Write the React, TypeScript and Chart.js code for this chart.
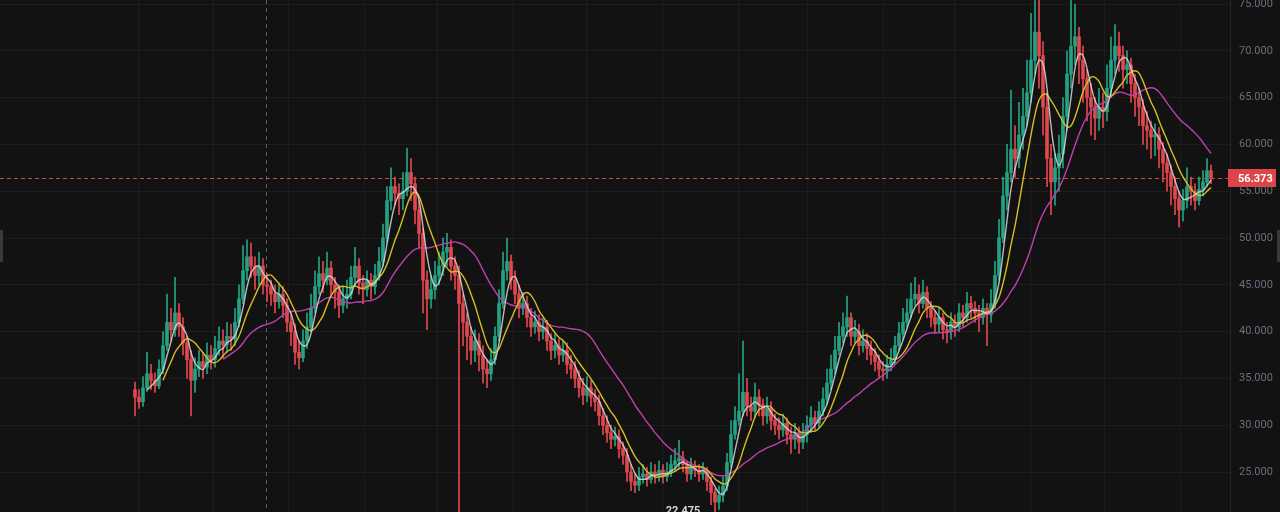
import React, { useEffect, useRef } from 'react';
import { Chart, registerables } from 'chart.js';

Chart.register(...registerables);

// ---------- data ----------
const FIRST_OPEN = 33.8;
const LAST_PRICE = 56.373;
const LOW_LABEL = '22.475';
const LOW_LABEL_INDEX = 137;
const CROSSHAIR_INDEX = 32.75;

const closes = [
  33.0, 32.5, 34.0, 35.5, 34.8, 34.2, 36.0, 38.5, 41.0, 40.2,
  42.0, 40.5, 38.8, 37.0, 34.8, 36.0, 36.8, 36.2, 37.5, 37.0,
  38.2, 39.0, 38.6, 39.5, 39.2, 41.0, 43.5, 46.5, 48.0, 47.0,
  46.0, 47.0, 45.0, 44.8, 44.0, 43.2, 44.0, 42.8, 41.0, 40.0,
  37.8, 37.2, 39.0, 40.5, 42.5, 44.8, 46.2, 45.5, 46.8, 45.0,
  44.2, 42.8, 43.5, 44.0, 45.8, 47.0, 45.2, 44.5, 45.5, 44.8,
  46.0, 47.5, 50.0, 54.0, 55.5, 54.8, 54.2, 55.0, 57.0, 55.8,
  53.0, 50.5, 45.5, 43.5, 44.5, 46.0, 47.0, 48.5, 49.0, 47.0,
  46.0, 43.0, 41.0, 39.5, 38.0, 39.0, 37.5, 36.0, 35.5, 37.0,
  39.5, 43.0, 46.5, 47.5, 45.5, 44.0, 42.5, 43.0, 41.5, 40.5,
  41.0, 40.0, 40.5, 39.0, 38.0, 38.5, 37.5, 38.0, 36.5, 36.0,
  35.0, 34.0, 33.2, 34.0, 33.0, 32.5, 31.0, 30.0, 29.2, 28.5,
  28.8, 27.5, 26.8, 25.0, 24.0, 23.6, 24.5, 24.8, 24.2, 25.0,
  24.6, 25.2, 24.5, 25.0, 25.8, 26.2, 26.5, 25.8, 24.8, 25.5,
  25.2, 24.8, 25.2, 24.0, 22.8, 21.8, 22.5, 23.5, 26.0, 29.0,
  30.5, 31.5, 33.5, 32.0, 31.5, 33.0, 32.2, 31.0, 31.8, 30.5,
  30.0, 29.5, 30.2, 29.0, 28.5, 29.2, 28.2, 29.0, 30.0, 30.8,
  30.2, 31.5, 32.8, 34.5, 36.0, 38.0, 39.5, 40.5, 41.5, 39.5,
  40.0, 38.5, 39.0, 38.2, 37.5, 36.8, 36.0, 35.8, 36.5, 37.0,
  38.5, 39.8, 41.0, 42.0, 43.5, 44.0, 43.0, 44.2, 42.5, 41.5,
  40.8, 41.5, 40.2, 40.0, 41.0, 40.5, 42.0, 41.5, 43.0, 42.5,
  42.0, 41.5, 42.5, 41.8, 43.0, 46.0, 50.0, 54.5, 57.0, 59.5,
  58.5, 61.0, 63.0, 65.5, 69.0, 72.0, 69.5, 64.0, 58.5, 56.0,
  57.5, 59.0, 63.0, 67.5, 70.5, 71.5, 69.0, 67.0, 65.0, 64.0,
  62.8, 64.0, 63.5, 66.0, 69.0, 70.5, 69.5, 68.0, 68.5, 66.5,
  65.0, 64.0, 62.0, 61.5, 60.8, 61.0, 59.5, 58.0, 57.0, 55.5,
  54.2, 53.0, 54.0, 55.5, 55.0, 54.0, 55.2, 56.0, 57.2, 56.373,
];

const highs = [
  34.6, 33.8, 35.2, 37.8, 36.5, 35.6, 37.0, 40.0, 44.0, 42.5,
  45.8, 43.0, 41.5, 39.5, 38.0, 37.2, 38.0, 37.8, 38.8, 38.5,
  39.5, 40.5, 40.2, 41.0, 40.8, 42.5, 45.0, 49.2, 49.8, 49.5,
  48.0, 48.5, 47.8, 46.2, 45.5, 45.0, 45.2, 44.8, 43.5, 42.0,
  40.8, 39.0, 40.2, 42.0, 44.0, 46.5, 48.0, 47.5, 48.5, 47.5,
  45.8, 45.0, 44.8, 45.5, 47.0, 49.0, 47.8, 46.0, 46.5, 46.2,
  47.2, 49.0, 51.5, 55.5, 57.5, 56.5, 55.8, 57.0, 59.6, 58.5,
  56.5, 54.0, 51.0, 46.5, 46.0, 47.5, 48.5, 50.0, 50.5, 49.8,
  48.0, 47.0, 44.0, 42.0, 40.5, 40.2, 39.8, 38.5, 37.0, 38.2,
  40.5, 44.5, 48.5, 50.0, 48.2, 46.5, 45.0, 44.2, 43.8, 42.5,
  42.2, 41.8, 41.5, 41.2, 39.8, 39.8, 39.2, 39.0, 38.8, 37.5,
  36.8, 35.8, 35.0, 35.2, 34.8, 33.8, 33.2, 31.8, 31.0, 30.0,
  29.8, 29.5, 28.2, 27.5, 25.8, 24.8, 25.5, 25.8, 25.5, 26.0,
  25.8, 26.2, 25.8, 26.0, 26.8, 27.5, 28.4, 27.2, 26.2, 26.5,
  26.2, 25.8, 26.0, 25.5, 24.5, 23.2, 23.5, 24.5, 27.0, 30.5,
  32.0, 35.5, 39.0, 35.0, 33.0, 34.5, 33.8, 32.8, 33.0, 32.5,
  31.2, 30.8, 31.2, 30.8, 29.8, 30.2, 29.8, 30.2, 31.0, 32.0,
  31.5, 32.5, 34.0, 36.0, 37.5, 39.5, 41.0, 42.0, 43.8, 42.0,
  41.2, 40.8, 40.2, 39.8, 39.0, 38.2, 37.5, 36.8, 37.5, 38.2,
  39.5, 41.0, 42.5, 43.5, 45.2, 45.8, 45.0, 45.5, 44.8, 43.2,
  42.2, 42.5, 42.0, 41.0, 42.0, 41.8, 43.0, 42.8, 44.2, 43.8,
  43.2, 42.8, 43.5, 43.0, 44.5, 47.5, 52.0, 56.5, 60.0, 65.8,
  62.0, 64.5, 66.0, 69.0, 74.0, 77.0, 76.0, 71.0, 65.5, 60.0,
  59.0, 61.0, 65.0, 70.0, 76.0, 75.0, 72.5, 70.5, 68.0, 66.5,
  65.0, 66.0, 65.5, 68.5, 71.5, 72.8, 72.0, 70.5, 70.0, 69.2,
  67.5, 66.0, 64.8, 63.5, 62.5, 62.2, 61.8, 60.2, 59.0, 57.8,
  56.5, 55.0, 55.2, 57.5, 56.5, 55.8, 56.5, 57.2, 58.5, 57.8,
];

const lows = [
  31.0, 31.8, 32.0, 33.6, 33.8, 33.5, 33.9, 35.5, 38.0, 39.0,
  39.5, 39.5, 37.5, 35.0, 31.0, 33.5, 35.2, 35.0, 35.5, 36.0,
  36.2, 37.5, 37.2, 37.8, 38.0, 38.5, 40.5, 43.0, 45.5, 45.8,
  44.5, 45.0, 44.0, 43.2, 42.8, 42.0, 42.5, 41.5, 40.0, 38.5,
  36.5, 36.0, 36.8, 38.2, 40.0, 42.0, 44.0, 44.2, 45.0, 43.8,
  42.5, 41.5, 42.0, 42.5, 43.5, 44.8, 44.0, 43.0, 43.8, 43.5,
  44.0, 45.5, 47.0, 49.5, 53.0, 53.5, 52.5, 53.0, 54.5, 54.0,
  51.5, 49.0, 42.0, 40.2, 42.5, 43.5, 45.0, 46.0, 47.0, 45.5,
  44.5, 18.0, 38.5, 37.0, 36.5, 36.8, 35.8, 34.5, 34.0, 34.8,
  36.5, 39.0, 42.5, 45.5, 44.5, 43.0, 41.5, 41.8, 40.5, 39.5,
  39.8, 39.0, 39.2, 38.0, 37.0, 37.2, 36.5, 36.8, 35.5, 35.0,
  34.0, 33.0, 32.2, 32.5, 32.0, 31.5, 30.0, 29.0, 28.2, 27.5,
  27.8, 26.5, 25.8, 24.0, 23.0, 22.8, 23.0, 23.8, 23.5, 23.8,
  23.8, 24.0, 23.8, 24.0, 24.5, 25.2, 25.5, 25.0, 24.0, 24.2,
  24.5, 24.0, 24.2, 23.0, 21.5, 20.5, 21.0, 21.8, 23.0, 25.5,
  28.5, 30.0, 31.0, 31.0, 30.5, 30.8, 31.0, 30.0, 30.2, 29.5,
  29.0, 28.5, 28.8, 28.0, 27.0, 27.5, 27.0, 27.5, 28.2, 29.2,
  29.5, 29.8, 31.0, 32.2, 33.8, 35.5, 37.5, 38.8, 39.5, 38.5,
  38.8, 37.5, 37.8, 37.0, 36.5, 35.8, 35.0, 34.8, 35.0, 35.8,
  36.5, 38.0, 39.2, 40.5, 41.5, 42.8, 42.0, 42.5, 41.5, 40.5,
  39.8, 40.0, 39.2, 38.8, 39.2, 39.5, 40.0, 40.5, 41.0, 41.5,
  41.0, 40.0, 40.8, 38.5, 41.0, 42.5, 45.5, 49.5, 53.0, 56.0,
  56.5, 57.5, 59.5, 62.0, 64.5, 67.5, 66.0, 61.0, 55.5, 52.5,
  53.5, 55.0, 57.5, 61.5, 66.0, 68.5, 66.5, 64.5, 62.5, 61.0,
  60.5, 61.5, 61.8, 62.5, 65.0, 67.5, 67.8, 66.0, 66.5, 64.5,
  63.0, 62.0, 60.0, 59.5, 58.5, 58.8, 57.5, 56.0, 55.0, 53.5,
  52.5, 51.2, 51.8, 53.2, 53.5, 53.0, 53.5, 54.5, 55.5, 55.8,
];

// month boundaries (candle index units)
const monthLines = [0.75, 19.5, 38.25, 57.25, 75.5, 94.5, 112.75, 131.75, 150.75, 168, 187, 204.75, 223.75, 242.25, 261.25];

const yTickValues = [25, 30, 35, 40, 45, 50, 55, 60, 65, 70, 75];
const MA_FAST = 4;
const MA_MID = 8;
const MA_SLOW = 23;

// ---------- helpers ----------
const opens = closes.map((_, i) => (i === 0 ? FIRST_OPEN : closes[i - 1]));

function sma(values: number[], n: number) {
  return values.map((_, i) => {
    if (i < n - 1) return null;
    let s = 0;
    for (let k = i - n + 1; k <= i; k++) s += values[k];
    return s / n;
  });
}

const GREEN = '#22a384';
const RED = '#e0484e';
const BG = '#121212';
const GRID = '#1d1d1f';

export default function App() {
  const ref = useRef<HTMLCanvasElement | null>(null);

  useEffect(() => {
    document.body.style.margin = '0';
    document.body.style.background = BG;
    const canvas = ref.current;
    if (!canvas) return;

    const colors = closes.map((c, i) => (c >= opens[i] ? GREEN : RED));
    const wickData = closes.map((_, i) => ({ x: i, y: [lows[i], highs[i]] }));
    const bodyData = closes.map((c, i) => ({ x: i, y: [opens[i], c] }));
    const toLine = (arr: (number | null)[]) => arr.map((v, i) => ({ x: i, y: v }));

    const bgPlugin = {
      id: 'bgPlugin',
      beforeDraw(chart: any) {
        const ctx = chart.ctx;
        ctx.save();
        ctx.fillStyle = BG;
        ctx.fillRect(0, 0, chart.width, chart.height);
        ctx.restore();
      },
      beforeDatasetsDraw(chart: any) {
        const ctx = chart.ctx;
        const { left, right, top, bottom } = chart.chartArea;
        const xs = chart.scales.x;
        const ys = chart.scales.y;
        ctx.save();
        // month grid lines
        ctx.strokeStyle = GRID;
        ctx.lineWidth = 1;
        monthLines.forEach((m) => {
          const px = Math.round(xs.getPixelForValue(m)) + 0.5;
          ctx.beginPath();
          ctx.moveTo(px, top);
          ctx.lineTo(px, bottom);
          ctx.stroke();
        });
        // crosshair vertical
        const cx = Math.round(xs.getPixelForValue(CROSSHAIR_INDEX)) + 0.5;
        ctx.strokeStyle = '#5d606b';
        ctx.setLineDash([4, 4]);
        ctx.beginPath();
        ctx.moveTo(cx, top);
        ctx.lineTo(cx, bottom);
        ctx.stroke();
        // last price line
        const py = Math.round(ys.getPixelForValue(LAST_PRICE)) + 0.5;
        ctx.strokeStyle = '#d2483e';
        ctx.setLineDash([4, 3]);
        ctx.beginPath();
        ctx.moveTo(left, py);
        ctx.lineTo(right, py);
        ctx.stroke();
        ctx.restore();
      },
      afterDraw(chart: any) {
        const ctx = chart.ctx;
        const { right, bottom } = chart.chartArea;
        const xs = chart.scales.x;
        const ys = chart.scales.y;
        ctx.save();
        // last price label
        const py = ys.getPixelForValue(LAST_PRICE);
        ctx.fillStyle = '#dc4549';
        ctx.beginPath();
        ctx.rect(right - 2, Math.round(py) - 9, 48, 18);
        ctx.fill();
        ctx.fillStyle = '#ffffff';
        ctx.font = 'bold 11px Roboto, "DejaVu Sans", sans-serif';
        ctx.textBaseline = 'middle';
        ctx.textAlign = 'left';
        ctx.fillText(LAST_PRICE.toFixed(3), right + 8, Math.round(py) + 1);
        // low label
        ctx.fillStyle = '#d6d6d6';
        ctx.font = 'bold 11px Roboto, "DejaVu Sans", sans-serif';
        ctx.textAlign = 'center';
        ctx.textBaseline = 'top';
        ctx.fillText(LOW_LABEL, xs.getPixelForValue(LOW_LABEL_INDEX), bottom - 6);
        // edge handles
        ctx.fillStyle = '#3a3a3c';
        ctx.fillRect(0, 230, 3, 32);
        ctx.fillRect(chart.width - 3, 230, 3, 32);
        ctx.restore();
      },
    };

    const chart = new Chart(canvas, {
      type: 'bar',
      data: {
        datasets: [
          {
            type: 'line',
            data: toLine(sma(closes, MA_FAST)),
            borderColor: 'rgba(215,215,218,0.85)',
            borderWidth: 1.4,
            pointRadius: 0,
            tension: 0.4,
            order: 0,
          } as any,
          {
            type: 'line',
            data: toLine(sma(closes, MA_MID)),
            borderColor: '#d8be22',
            borderWidth: 1.4,
            pointRadius: 0,
            tension: 0.4,
            order: 1,
          } as any,
          {
            type: 'line',
            data: toLine(sma(closes, MA_SLOW)),
            borderColor: '#c03fae',
            borderWidth: 1.4,
            pointRadius: 0,
            tension: 0.4,
            order: 2,
          } as any,
          {
            type: 'bar',
            data: bodyData,
            backgroundColor: colors,
            barThickness: 3,
            minBarLength: 1,
            grouped: false,
            borderWidth: 0,
            order: 3,
          } as any,
          {
            type: 'bar',
            data: wickData,
            backgroundColor: colors,
            barThickness: 1,
            grouped: false,
            borderWidth: 0,
            order: 4,
          } as any,
        ],
      },
      options: {
        animation: false,
        responsive: false,
        devicePixelRatio: 1,
        events: [],
        layout: { padding: 0 },
        plugins: { legend: { display: false }, tooltip: { enabled: false } },
        scales: {
          x: {
            type: 'linear',
            display: false,
            min: -33.75,
            max: 273.75,
            offset: false,
          },
          y: {
            type: 'linear',
            position: 'right',
            min: 20.73,
            max: 75.43,
            afterFit: (s: any) => {
              s.width = 50;
              s.paddingTop = 0;
              s.paddingBottom = 0;
            },
            afterBuildTicks: (s: any) => {
              s.ticks = yTickValues.map((v) => ({ value: v }));
            },
            grid: { color: GRID, drawTicks: false },
            border: { display: true, color: '#232325' },
            ticks: {
              padding: 9,
              color: '#6a6f7e',
              font: { size: 11, family: 'Roboto, "DejaVu Sans", sans-serif' },
              callback: (v: any) => Number(v).toFixed(3),
            },
          },
        },
      } as any,
      plugins: [bgPlugin],
    });

    return () => chart.destroy();
  }, []);

  return (
    <div style={{ width: 1280, height: 512, background: BG }}>
      <canvas ref={ref} width={1280} height={512} style={{ display: 'block' }} />
    </div>
  );
}
